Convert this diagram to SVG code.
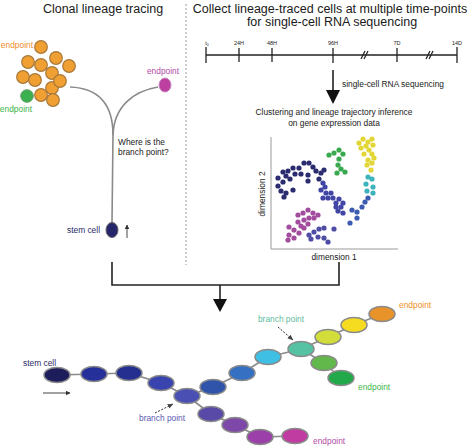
<svg xmlns="http://www.w3.org/2000/svg" width="474" height="448" viewBox="0 0 474 448">
<defs>
<style>
text{font-family:"Liberation Sans",Arial,sans-serif;}
.title{font-size:12.5px;fill:#1a1a1a;}
.lbl{font-size:8.4px;fill:#1a1a1a;}
.tick{font-size:5.5px;fill:#1a1a1a;text-anchor:middle;}
.oc{fill:#f0a032;stroke:#a87838;stroke-width:1.2;}
.cell{stroke:#8a8a8a;stroke-width:1.5;}
.link{stroke:#8a8a8a;stroke-width:1.6;fill:none;}
.dot{stroke:none;}
</style>
<marker id="ah" viewBox="0 0 10 10" refX="9" refY="5" markerWidth="5" markerHeight="5" orient="auto"><path d="M0,0 L10,5 L0,10 Z" fill="#333"/></marker>
<marker id="ahs" viewBox="0 0 10 10" refX="9" refY="5" markerWidth="6" markerHeight="6" orient="auto"><path d="M0,1 L10,5 L0,9 Z" fill="#444"/></marker>
</defs>
<rect width="474" height="448" fill="#fff"/>

<g id="titles">
<text class="title" x="103" y="13" text-anchor="middle">Clonal lineage tracing</text>
<text class="title" x="330" y="13" text-anchor="middle">Collect lineage-traced cells at multiple time-points</text>
<text class="title" x="332" y="26" text-anchor="middle">for single-cell RNA sequencing</text>
</g>

<line id="divider" x1="186" y1="4" x2="186" y2="265" stroke="#999" stroke-width="1" stroke-dasharray="2,2"/>

<g id="connectors">
<path class="link" d="M70,87 C96,88 113,102 113,135"/>
<path class="link" d="M158,87 C134,91 114,106 113,135 L112,223"/>
<line x1="127" y1="238" x2="127" y2="225" stroke="#333" stroke-width="0.9" marker-end="url(#ah)"/>
<path d="M112,262 V285 H339 V262" fill="none" stroke="#222" stroke-width="1.6"/>
<line x1="220" y1="285" x2="220" y2="301" stroke="#222" stroke-width="1.6"/>
<path d="M213,299 L227,299 L220,312 Z" fill="#111"/>
<line x1="333" y1="70" x2="333" y2="92" stroke="#222" stroke-width="1.6"/>
<path d="M326,90 L340,90 L333,104 Z" fill="#111"/>
<g class="link">
<line x1="57" y1="375" x2="94" y2="374"/>
<line x1="94" y1="374" x2="129" y2="373"/>
<line x1="129" y1="373" x2="161" y2="383"/>
<line x1="161" y1="383" x2="187" y2="396"/>
<line x1="187" y1="396" x2="213" y2="387"/>
<line x1="213" y1="387" x2="242" y2="373"/>
<line x1="242" y1="373" x2="268" y2="357"/>
<line x1="268" y1="357" x2="301" y2="349"/>
<line x1="301" y1="349" x2="328" y2="337"/>
<line x1="328" y1="337" x2="354" y2="325"/>
<line x1="354" y1="325" x2="382" y2="314"/>
<line x1="301" y1="349" x2="324" y2="363"/>
<line x1="324" y1="363" x2="341" y2="378"/>
<line x1="187" y1="396" x2="211" y2="414"/>
<line x1="211" y1="414" x2="235" y2="425"/>
<line x1="235" y1="425" x2="260" y2="437"/>
<line x1="260" y1="437" x2="295" y2="436"/>
</g>
<line x1="43" y1="393" x2="70" y2="393" stroke="#444" stroke-width="1" marker-end="url(#ah)"/>
<line x1="155" y1="413" x2="173" y2="404" stroke="#333" stroke-width="1" stroke-dasharray="2,1.5" marker-end="url(#ahs)"/>
<line x1="278" y1="327" x2="293" y2="340" stroke="#333" stroke-width="1" stroke-dasharray="2,1.5" marker-end="url(#ahs)"/>
</g>

<g id="clone-cluster">
<circle class="oc" cx="41" cy="47" r="6.3"/>
<circle class="oc" cx="28" cy="62" r="6.3"/>
<circle class="oc" cx="41" cy="65" r="6.3"/>
<circle class="oc" cx="56" cy="58" r="6.3"/>
<circle class="oc" cx="69" cy="66" r="6.3"/>
<circle class="oc" cx="23" cy="77" r="6.3"/>
<circle class="oc" cx="35" cy="80" r="6.3"/>
<circle class="oc" cx="52" cy="73" r="6.3"/>
<circle class="oc" cx="52" cy="88" r="6.3"/>
<circle class="oc" cx="60" cy="81" r="6.3"/>
<circle class="oc" cx="41" cy="95" r="6.3"/>
<circle class="oc" cx="53" cy="100" r="6.3"/>
<circle cx="27" cy="96" r="6.3" fill="#3bb04e" stroke="#6a9a6a" stroke-width="1"/>
<text class="lbl" x="33" y="48" text-anchor="end" fill="#f08e2a" style="fill:#f08e2a">endpoint</text>
<text class="lbl" x="32" y="112" text-anchor="end" style="fill:#3cb54a">endpoint</text>
</g>

<g id="magenta-endpoint">
<ellipse cx="165" cy="85" rx="6" ry="7" fill="#bd3f9f" stroke="#c98ac0" stroke-width="1"/>
<text class="lbl" x="163" y="74" text-anchor="middle" style="fill:#b44aa8">endpoint</text>
</g>

<g id="stem-cell-top">
<ellipse cx="112" cy="230" rx="6" ry="7.5" fill="#26266a" stroke="#666" stroke-width="1"/>
<text class="lbl" x="100" y="233" text-anchor="end" style="fill:#2a2a66">stem cell</text>
</g>

<g id="question">
<text class="lbl" x="118" y="145">Where is the</text>
<text class="lbl" x="118" y="155">branch point?</text>
</g>

<g id="timeline">
<line x1="206" y1="55" x2="457" y2="55" stroke="#222" stroke-width="1.3"/>
<g stroke="#222" stroke-width="1.3">
<line x1="206" y1="47" x2="206" y2="63"/>
<line x1="239" y1="48" x2="239" y2="62"/>
<line x1="272" y1="48" x2="272" y2="62"/>
<line x1="333" y1="48" x2="333" y2="63"/>
<line x1="397" y1="48" x2="397" y2="62"/>
<line x1="457" y1="47" x2="457" y2="63"/>
<line x1="361" y1="59" x2="365" y2="51"/>
<line x1="364" y1="59" x2="368" y2="51"/>
<line x1="426" y1="59" x2="430" y2="51"/>
<line x1="429" y1="59" x2="433" y2="51"/>
</g>
<text class="tick" x="207" y="45">t<tspan font-size="3.5" dy="1">0</tspan></text>
<text class="tick" x="239" y="45">24H</text>
<text class="tick" x="272" y="45">48H</text>
<text class="tick" x="333" y="45">96H</text>
<text class="tick" x="397" y="45">7D</text>
<text class="tick" x="457" y="45">14D</text>
<text class="lbl" x="342" y="87">single-cell RNA sequencing</text>
</g>

<g id="scatter">
<text class="lbl" x="334" y="115" text-anchor="middle">Clustering and lineage trajectory inference</text>
<text class="lbl" x="334" y="126" text-anchor="middle">on gene expression data</text>
<path d="M271,137 V249 H398" fill="none" stroke="#9a9a9a" stroke-width="1"/>
<text class="lbl" x="334" y="260" text-anchor="middle">dimension 1</text>
<text class="lbl" transform="translate(265,194) rotate(-90)" text-anchor="middle">dimension 2</text>
<g class="dot" fill="#2b2c70">
<circle cx="278" cy="178" r="2.6"/><circle cx="283" cy="172" r="2.6"/><circle cx="288" cy="171" r="2.6"/><circle cx="293" cy="168" r="2.6"/>
<circle cx="286" cy="176" r="2.6"/><circle cx="290" cy="179" r="2.6"/><circle cx="283" cy="182" r="2.6"/><circle cx="278" cy="186" r="2.6"/>
<circle cx="281" cy="191" r="2.6"/><circle cx="286" cy="193" r="2.6"/><circle cx="293" cy="190" r="2.6"/><circle cx="284" cy="197" r="2.6"/>
<circle cx="295" cy="174" r="2.6"/><circle cx="299" cy="168" r="2.6"/><circle cx="304" cy="163" r="2.6"/><circle cx="309" cy="163" r="2.6"/>
<circle cx="313" cy="167" r="2.6"/><circle cx="316" cy="171" r="2.6"/><circle cx="301" cy="174" r="2.6"/><circle cx="308" cy="175" r="2.6"/>
<circle cx="321" cy="173" r="2.6"/><circle cx="324" cy="170" r="2.6"/><circle cx="308" cy="181" r="2.6"/><circle cx="319" cy="179" r="2.6"/>
</g>
<g class="dot" fill="#4146a6">
<circle cx="323" cy="183" r="2.6"/><circle cx="325" cy="187" r="2.6"/><circle cx="321" cy="190" r="2.6"/><circle cx="326" cy="193" r="2.6"/>
<circle cx="323" cy="198" r="2.6"/><circle cx="328" cy="198" r="2.6"/><circle cx="333" cy="198" r="2.6"/><circle cx="336" cy="203" r="2.6"/>
<circle cx="339" cy="199" r="2.6"/><circle cx="343" cy="203" r="2.6"/><circle cx="336" cy="207" r="2.6"/><circle cx="341" cy="207" r="2.6"/>
<circle cx="338" cy="211" r="2.6"/><circle cx="343" cy="213" r="2.6"/><circle cx="331" cy="193" r="2.6"/>
</g>
<g class="dot" fill="#3d5bb0">
<circle cx="350" cy="223" r="2.6"/><circle cx="357" cy="218" r="2.6"/><circle cx="352" cy="210" r="2.6"/><circle cx="357" cy="212" r="2.6"/>
<circle cx="362" cy="207" r="2.6"/><circle cx="365" cy="202" r="2.6"/><circle cx="368" cy="198" r="2.6"/>
</g>
<g class="dot" fill="#4f4ca6">
<circle cx="309" cy="235" r="2.6"/><circle cx="314" cy="232" r="2.6"/><circle cx="319" cy="229" r="2.6"/><circle cx="324" cy="228" r="2.6"/>
<circle cx="334" cy="229" r="2.6"/><circle cx="318" cy="237" r="2.6"/><circle cx="324" cy="238" r="2.6"/><circle cx="328" cy="242" r="2.6"/>
<circle cx="311" cy="239" r="2.6"/>
</g>
<g class="dot" fill="#a24c9e">
<circle cx="298" cy="215" r="2.6"/><circle cx="303" cy="213" r="2.6"/><circle cx="308" cy="210" r="2.6"/><circle cx="313" cy="213" r="2.6"/>
<circle cx="318" cy="215" r="2.6"/><circle cx="298" cy="222" r="2.6"/><circle cx="304" cy="220" r="2.6"/><circle cx="309" cy="218" r="2.6"/>
<circle cx="314" cy="218" r="2.6"/><circle cx="301" cy="226" r="2.6"/><circle cx="308" cy="224" r="2.6"/><circle cx="289" cy="227" r="2.6"/>
<circle cx="294" cy="230" r="2.6"/><circle cx="289" cy="235" r="2.6"/><circle cx="288" cy="240" r="2.6"/><circle cx="294" cy="238" r="2.6"/>
<circle cx="299" cy="233" r="2.6"/><circle cx="304" cy="228" r="2.6"/>
</g>
<g class="dot" fill="#3aa84e">
<circle cx="329" cy="155" r="2.6"/><circle cx="334" cy="153" r="2.6"/><circle cx="339" cy="150" r="2.6"/><circle cx="343" cy="154" r="2.6"/>
<circle cx="339" cy="159" r="2.6"/><circle cx="338" cy="165" r="2.6"/><circle cx="341" cy="169" r="2.6"/><circle cx="345" cy="172" r="2.6"/>
<circle cx="337" cy="173" r="2.6"/>
</g>
<g class="dot" fill="#e2d634">
<circle cx="363" cy="139" r="2.6"/><circle cx="359" cy="143" r="2.6"/><circle cx="361" cy="148" r="2.6"/><circle cx="366" cy="146" r="2.6"/>
<circle cx="368" cy="142" r="2.6"/><circle cx="372" cy="139" r="2.6"/><circle cx="373" cy="145" r="2.6"/><circle cx="364" cy="154" r="2.6"/>
<circle cx="369" cy="150" r="2.6"/><circle cx="372" cy="154" r="2.6"/><circle cx="368" cy="160" r="2.6"/><circle cx="372" cy="163" r="2.6"/>
<circle cx="374" cy="158" r="2.6"/><circle cx="371" cy="170" r="2.6"/><circle cx="367" cy="165" r="2.6"/>
</g>
<g class="dot" fill="#3db3bd">
<circle cx="368" cy="177" r="2.6"/><circle cx="372" cy="179" r="2.6"/><circle cx="373" cy="187" r="2.6"/><circle cx="366" cy="184" r="2.6"/>
<circle cx="367" cy="191" r="2.6"/><circle cx="373" cy="193" r="2.6"/>
</g>
</g>

<g id="chain">
<ellipse class="cell" cx="57" cy="375" rx="13" ry="7.5" fill="#1d1d5c"/>
<ellipse class="cell" cx="94" cy="374" rx="13" ry="7.5" fill="#26309a"/>
<ellipse class="cell" cx="129" cy="373" rx="13" ry="7.5" fill="#252f90"/>
<ellipse class="cell" cx="161" cy="383" rx="13" ry="7.5" fill="#3a44ae"/>
<ellipse class="cell" cx="187" cy="396" rx="13" ry="7.5" fill="#4a4fb4"/>
<ellipse class="cell" cx="213" cy="387" rx="13" ry="7.5" fill="#3054aa"/>
<ellipse class="cell" cx="242" cy="373" rx="13" ry="7.5" fill="#3570c2"/>
<ellipse class="cell" cx="268" cy="357" rx="13" ry="7.5" fill="#40bfe5"/>
<ellipse class="cell" cx="301" cy="349" rx="13" ry="7.5" fill="#55c3a3"/>
<ellipse class="cell" cx="328" cy="337" rx="13" ry="7.5" fill="#d2dc3a"/>
<ellipse class="cell" cx="354" cy="325" rx="13" ry="7.5" fill="#f5dc20"/>
<ellipse class="cell" cx="382" cy="314" rx="13" ry="7.5" fill="#e8932a"/>
<ellipse class="cell" cx="324" cy="363" rx="13" ry="7.5" fill="#62b84a"/>
<ellipse class="cell" cx="341" cy="378" rx="13" ry="7.5" fill="#22aa4a"/>
<ellipse class="cell" cx="211" cy="414" rx="13" ry="7.5" fill="#5a4aa8"/>
<ellipse class="cell" cx="235" cy="425" rx="13" ry="7.5" fill="#7e48a8"/>
<ellipse class="cell" cx="260" cy="437" rx="13" ry="7.5" fill="#9a40a8"/>
<ellipse class="cell" cx="295" cy="436" rx="13" ry="7.5" fill="#c03ca0"/>
<text class="lbl" x="23" y="366" style="fill:#2a2a66">stem cell</text>
<text class="lbl" x="139" y="421" style="fill:#5a5ab4">branch point</text>
<text class="lbl" x="281" y="322" text-anchor="middle" style="fill:#62bda2">branch point</text>
<text class="lbl" x="399" y="308" style="fill:#f08e2a">endpoint</text>
<text class="lbl" x="358" y="390" style="fill:#3cb54a">endpoint</text>
<text class="lbl" x="313" y="444" style="fill:#b44aa8">endpoint</text>
</g>
</svg>
